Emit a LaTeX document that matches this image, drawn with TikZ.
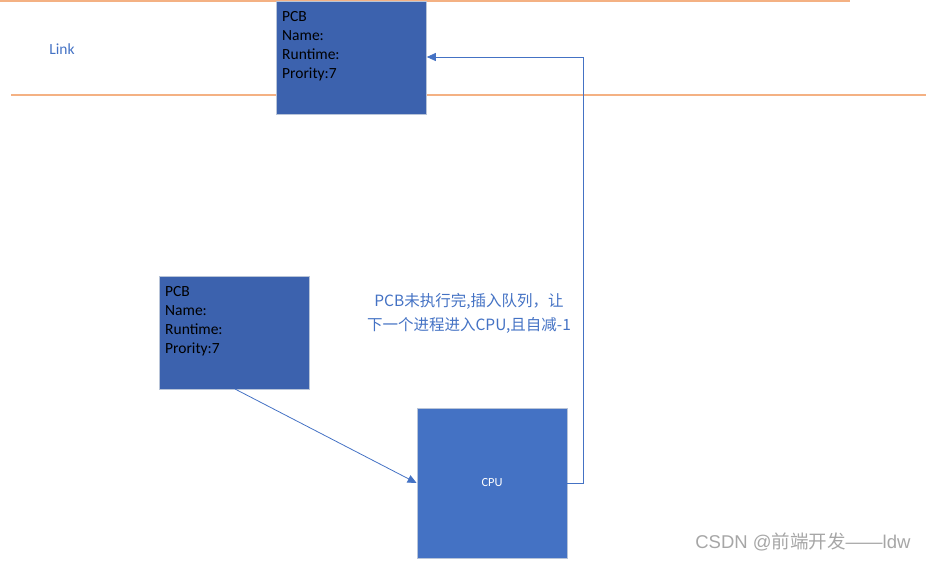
\documentclass[tikz,border=0pt]{standalone}
\usepackage{fontspec}
\setmainfont{Carlito}
\newfontfamily\cjk{Noto Sans CJK SC}
\newfontfamily\wm{Liberation Sans}
\usetikzlibrary{arrows.meta}
\definecolor{pcbfill}{HTML}{3C62AE}
\definecolor{cpufill}{HTML}{4472C4}
\definecolor{edgegray}{HTML}{B8C4D8}
\definecolor{orangeline}{HTML}{F4B183}
\definecolor{linkblue}{HTML}{4472C4}
\definecolor{arrowblue}{HTML}{4472C4}
\begin{document}
\begin{tikzpicture}[x=1pt,y=-1pt,
  pcb/.style={draw=edgegray,line width=0.8pt,fill=pcbfill,minimum width=150pt,minimum height=113pt,anchor=north west,inner sep=0pt},
  pcbtext/.style={anchor=north west,align=left,font=\fontsize{15.5}{19}\selectfont,text=black,inner sep=0pt},
  cpubox/.style={draw=edgegray,line width=0.8pt,fill=cpufill,minimum width=150pt,minimum height=150pt,inner sep=0pt,text=white,font=\fontsize{12.4}{14}\selectfont},
  conn/.style={draw=arrowblue,line width=0.8pt,-{Triangle[length=9pt,width=8pt]}},
  orangesep/.style={draw=orangeline,line width=1.2pt}]
\useasboundingbox (0,0) rectangle (928,560);
% orange lines
\coordinate (t1) at (0,1);
\coordinate (t2) at (850,1);
\coordinate (b1) at (11,95);
\coordinate (b2) at (926,95);
\draw[orangesep] (t1) -- (t2);
\draw[orangesep] (b1) -- (b2);
\node[text=linkblue,font=\fontsize{15.5}{18}\selectfont] (link) at (62,49) {Link};
% top PCB
\node[pcb] (pcbA) at (276,1) {};
\node[pcbtext] (pcbAt) at (282,11) {PCB\\Name:\\Runtime:\\Prority:7};
% left PCB
\node[pcb] (pcbB) at (159,276) {};
\node[pcbtext] (pcbBt) at (165,286) {PCB\\Name:\\Runtime:\\Prority:7};
% CPU
\node[cpubox] (cpu) at (492,483) {CPU};
% label
\node[text=linkblue,align=center,font=\cjk\fontsize{15.5}{24}\selectfont] (lbl) at (469,313) {PCB未执行完,插入队列，让\\下一个进程进入CPU,且自减-1};
% connectors
\coordinate (startB) at (235,389);
\draw[conn] (startB) -- (cpu.west);
\coordinate (corner1) at (583,483);
\coordinate (corner2) at (583,57);
\draw[conn] (cpu.east) -- (corner1) -- (corner2) -- (pcbA.east |- corner2);
% watermark
\node[text=gray!70,anchor=east,font=\fontsize{18.5}{21}\selectfont] (wmk) at (914,542) {\wm CSDN @\cjk 前端开发\wm ——ldw};
\end{tikzpicture}
\end{document}
